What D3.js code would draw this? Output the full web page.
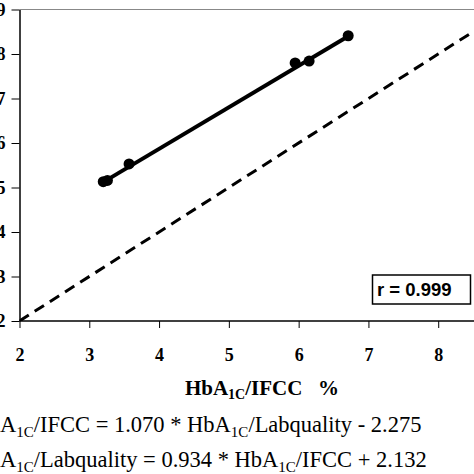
<!DOCTYPE html>
<html lang="en">
<head>
<meta charset="utf-8">
<title>HbA1C IFCC vs Labquality</title>
<script src="https://d3js.org/d3.v7.min.js"></script>
<style>
body { margin: 0; background: #fff; }
svg { display: block; }
text { white-space: pre; }
</style>
</head>
<body>
<div id="chart"></div>
<script>
// data
const ifcc = [3.20, 3.26, 3.57, 5.95, 6.15, 6.71];
const labq = [5.13, 5.16, 5.53, 7.80, 7.84, 8.41];
const xTicks = [2, 3, 4, 5, 6, 7, 8];
const yTicks = [2, 3, 4, 5, 6, 7, 8, 9];
const slope = 0.934, intercept = 2.132;
const rLabel = "r = 0.999";

const width = 474, height = 474;
const svg = d3.select("#chart").append("svg")
    .attr("width", width)
    .attr("height", height);

const x = d3.scaleLinear().domain([2, 9]).range([19.5, 508]);
const y = d3.scaleLinear().domain([2, 9]).range([321, 9.5]);

svg.append("defs").append("clipPath").attr("id", "plot")
    .append("rect")
    .attr("x", x(2)).attr("y", y(9))
    .attr("width", x(9) - x(2)).attr("height", y(2) - y(9));

// top border
svg.append("line")
    .attr("x1", x(2)).attr("x2", x(9))
    .attr("y1", y(9)).attr("y2", y(9))
    .attr("stroke", "#888").attr("stroke-width", 1.2);

const xAxis = svg.append("g")
    .attr("transform", "translate(0," + y(2) + ")")
    .call(d3.axisBottom(x).tickValues(xTicks).tickFormat(d3.format("d"))
        .tickSize(7).tickSizeOuter(0).tickPadding(20));
xAxis.select(".domain").attr("stroke-width", 1.5).attr("d", "M" + x(2) + ",0H" + x(9));
xAxis.selectAll("text")
    .attr("font-family", "Liberation Serif")
    .attr("font-weight", "bold")
    .attr("font-size", 18)
    .attr("fill", "#000");

const yAxis = svg.append("g")
    .attr("transform", "translate(" + x(2) + ",0)")
    .call(d3.axisLeft(y).tickValues(yTicks).tickFormat(d3.format("d"))
        .tickSize(8).tickSizeOuter(0).tickPadding(6));
yAxis.select(".domain").attr("stroke-width", 1.5);
yAxis.selectAll("text")
    .attr("font-family", "Liberation Serif")
    .attr("font-weight", "bold")
    .attr("font-size", 18)
    .attr("fill", "#000");

const plot = svg.append("g").attr("clip-path", "url(#plot)");

// line of identity
plot.append("line")
    .attr("x1", x(2)).attr("y1", y(2))
    .attr("x2", x(9)).attr("y2", y(9))
    .attr("stroke", "#000")
    .attr("stroke-width", 3)
    .attr("stroke-dasharray", "11,7");

// regression line
const xmin = d3.min(ifcc), xmax = d3.max(ifcc);
plot.append("line")
    .attr("x1", x(xmin)).attr("y1", y(slope * xmin + intercept))
    .attr("x2", x(xmax)).attr("y2", y(slope * xmax + intercept))
    .attr("stroke", "#000")
    .attr("stroke-width", 4);

plot.selectAll("circle")
    .data(ifcc.map((d, i) => ({ x: d, y: labq[i] })))
    .enter().append("circle")
    .attr("cx", d => x(d.x))
    .attr("cy", d => y(d.y))
    .attr("r", 5.5)
    .attr("fill", "#000");

// r box
svg.append("rect")
    .attr("x", 372.5).attr("y", 275)
    .attr("width", 98).attr("height", 29)
    .attr("fill", "#fff").attr("stroke", "#000").attr("stroke-width", 1.5);
svg.append("text")
    .attr("x", 377).attr("y", 296)
    .attr("font-family", "Liberation Sans")
    .attr("font-weight", "bold")
    .attr("font-size", 18.5)
    .text(rLabel);

// axis title
const title = svg.append("text")
    .attr("x", 262).attr("y", 395)
    .attr("text-anchor", "middle")
    .attr("font-family", "Liberation Serif")
    .attr("font-weight", "bold")
    .attr("font-size", 21);
title.append("tspan").text("HbA");
title.append("tspan").attr("font-size", 14).attr("dy", 4).text("1C");
title.append("tspan").attr("dy", -4).text("/IFCC   %");

// equations, left part cut off by the frame
function equation(parts, yPos) {
    const t = svg.append("text")
        .attr("x", 0).attr("y", yPos)
        .attr("font-family", "Liberation Serif")
        .attr("font-size", 22.5);
    const first = t.append("tspan").text("Hb");
    parts.forEach(function(p) {
        t.append("tspan")
            .attr("font-size", p.sub ? 15 : 22.5)
            .attr("dy", p.sub ? 5 : (p.back ? -5 : 0))
            .text(p.s);
    });
    const w = first.node().getComputedTextLength();
    t.attr("x", -w);
}
equation([
    { s: "A" }, { s: "1C", sub: true }, { s: "/IFCC = 1.070 * HbA", back: true },
    { s: "1C", sub: true }, { s: "/Labquality - 2.275", back: true }
], 431.5);
equation([
    { s: "A" }, { s: "1C", sub: true }, { s: "/Labquality = 0.934 * HbA", back: true },
    { s: "1C", sub: true }, { s: "/IFCC + 2.132", back: true }
], 466.5);
</script>
</body>
</html>
